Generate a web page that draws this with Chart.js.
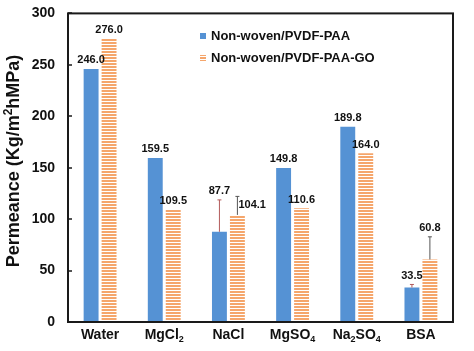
<!DOCTYPE html>
<html lang="en">
<head>
<meta charset="UTF-8" />
<title>Permeance</title>
<style>
  html, body { margin: 0; padding: 0; background: #fff; }
  #wrap { width: 474px; height: 351px; }
</style>
</head>
<body>
<div id="wrap"><canvas id="chart" width="474" height="351"></canvas></div>
<script src="https://cdn.jsdelivr.net/npm/chart.js"></script>
<script>
  const categories = ['Water', 'MgCl₂', 'NaCl', 'MgSO₄', 'Na₂SO₄', 'BSA'];
  const seriesNames = ['Non-woven/PVDF-PAA', 'Non-woven/PVDF-PAA-GO'];
  const paaValues = [246.0, 159.5, 87.7, 149.8, 189.8, 33.5];
  const paaErrors = [0, 0, 31, 0, 0, 3];
  const goValues = [276.0, 109.5, 104.1, 110.6, 164.0, 60.8];
  const goErrors = [0, 0, 18, 0, 0, 22];
  const yTicks = [0, 50, 100, 150, 200, 250, 300];
  const yTitle = 'Permeance (Kg/m²hMPa)';

  const BLUE = '#5592d4';
  const ORANGE = '#f5a66c';
  const FONT = 'Arial, "Liberation Sans", sans-serif';

  function stripePattern() {
    const c = document.createElement('canvas');
    c.width = 4; c.height = 3;
    const g = c.getContext('2d');
    g.fillStyle = '#fff';
    g.fillRect(0, 0, 4, 3);
    g.fillStyle = ORANGE;
    g.fillRect(0, 0, 4, 2);
    return g.createPattern(c, 'repeat');
  }
  const stripes = stripePattern();

  // text with unicode sub/superscript digits drawn smaller and shifted
  const SUBS = { '₀': '0', '₁': '1', '₂': '2', '₃': '3', '₄': '4' };
  const SUPS = { '²': '2', '³': '3' };
  function drawRich(ctx, text, cx, cy, size) {
    const runs = [];
    for (const ch of text) {
      const kind = SUBS[ch] ? 1 : SUPS[ch] ? -1 : 0;
      const c = SUBS[ch] || SUPS[ch] || ch;
      if (runs.length && runs[runs.length - 1].kind === kind) runs[runs.length - 1].t += c;
      else runs.push({ t: c, kind });
    }
    const big = `bold ${size}px ${FONT}`;
    const small = `bold ${Math.round(size * 0.65)}px ${FONT}`;
    let w = 0;
    runs.forEach(r => { ctx.font = r.kind ? small : big; r.w = ctx.measureText(r.t).width; w += r.w; });
    let x = cx - w / 2;
    ctx.textAlign = 'left';
    ctx.textBaseline = 'middle';
    runs.forEach(r => {
      ctx.font = r.kind ? small : big;
      ctx.fillText(r.t, x, cy + r.kind * size * 0.3);
      x += r.w;
    });
  }

  const errors = [paaErrors, goErrors];
  const errColors = ['#b35a5a', '#555555'];

  const extras = {
    id: 'extras',
    afterDatasetsDraw(chart) {
      const { ctx, chartArea: a, scales: { x, y } } = chart;
      ctx.save();

      // frame
      ctx.strokeStyle = '#1a1a1a';
      ctx.lineWidth = 2;
      ctx.strokeRect(a.left, a.top, a.right - a.left, a.bottom - a.top);

      // inward ticks on y axis
      ctx.lineWidth = 1.5;
      yTicks.forEach(v => {
        const py = Math.round(y.getPixelForValue(v));
        ctx.beginPath();
        ctx.moveTo(a.left, py);
        ctx.lineTo(a.left + 4, py);
        ctx.stroke();
      });

      // error bars + value labels
      chart.data.datasets.forEach((ds, di) => {
        const meta = chart.getDatasetMeta(di);
        meta.data.forEach((bar, i) => {
          const err = errors[di][i];
          let top = bar.y;
          if (err > 0) {
            const ey = y.getPixelForValue(ds.data[i] + err);
            ctx.strokeStyle = errColors[di];
            ctx.lineWidth = 1;
            ctx.beginPath();
            ctx.moveTo(bar.x, bar.y);
            ctx.lineTo(bar.x, ey);
            ctx.moveTo(bar.x - 2, ey);
            ctx.lineTo(bar.x + 2, ey);
            ctx.stroke();
            top = ey;
          }
          ctx.fillStyle = '#111';
          ctx.font = `bold 11px ${FONT}`;
          ctx.textBaseline = 'bottom';
          const txt = ds.data[i].toFixed(1);
          if (di === 1 && i === 2) {
            // label sits beside the error bar in the original
            ctx.textAlign = 'left';
            ctx.fillText(txt, bar.x + 1, bar.y - 4);
          } else {
            ctx.textAlign = 'center';
            ctx.fillText(txt, bar.x, top - 3);
          }
        });
      });

      // category labels
      ctx.fillStyle = '#111';
      categories.forEach((c, i) => {
        drawRich(ctx, c, x.getPixelForTick(i), a.bottom + 13, 14);
      });

      // y axis title
      ctx.save();
      ctx.translate(14, 161);
      ctx.rotate(-Math.PI / 2);
      drawRich(ctx, yTitle, 0, 0, 18);
      ctx.restore();

      // legend
      const lx = 200, ly = [36, 58];
      ctx.font = `bold 13px ${FONT}`;
      ctx.textAlign = 'left';
      ctx.textBaseline = 'middle';
      chart.data.datasets.forEach((ds, di) => {
        ctx.fillStyle = di === 0 ? BLUE : stripes;
        ctx.fillRect(lx, ly[di] - 3, 6, 6);
        ctx.fillStyle = '#111';
        ctx.fillText(ds.label, lx + 11, ly[di]);
      });

      ctx.restore();
    }
  };

  new Chart(document.getElementById('chart'), {
    type: 'bar',
    data: {
      labels: categories,
      datasets: [
        { label: seriesNames[0], data: paaValues, backgroundColor: BLUE },
        { label: seriesNames[1], data: goValues, backgroundColor: stripes }
      ]
    },
    options: {
      responsive: false,
      animation: false,
      layout: { padding: { top: 6, right: 21, left: 0, bottom: 0 } },
      datasets: { bar: { categoryPercentage: 0.56, barPercentage: 0.83 } },
      plugins: { legend: { display: false }, tooltip: { enabled: false } },
      scales: {
        x: {
          grid: { display: false },
          border: { display: false },
          ticks: { display: false },
          afterFit(s) { s.height = 29; }
        },
        y: {
          min: 0,
          max: 300,
          grid: { display: false },
          border: { display: false },
          afterBuildTicks(s) { s.ticks = yTicks.map(v => ({ value: v })); },
          afterFit(s) { s.width = 68; },
          ticks: {
            padding: 5,
            color: '#111',
            font: { family: FONT, size: 14, weight: 'bold' }
          }
        }
      }
    },
    plugins: [extras]
  });
</script>
</body>
</html>
